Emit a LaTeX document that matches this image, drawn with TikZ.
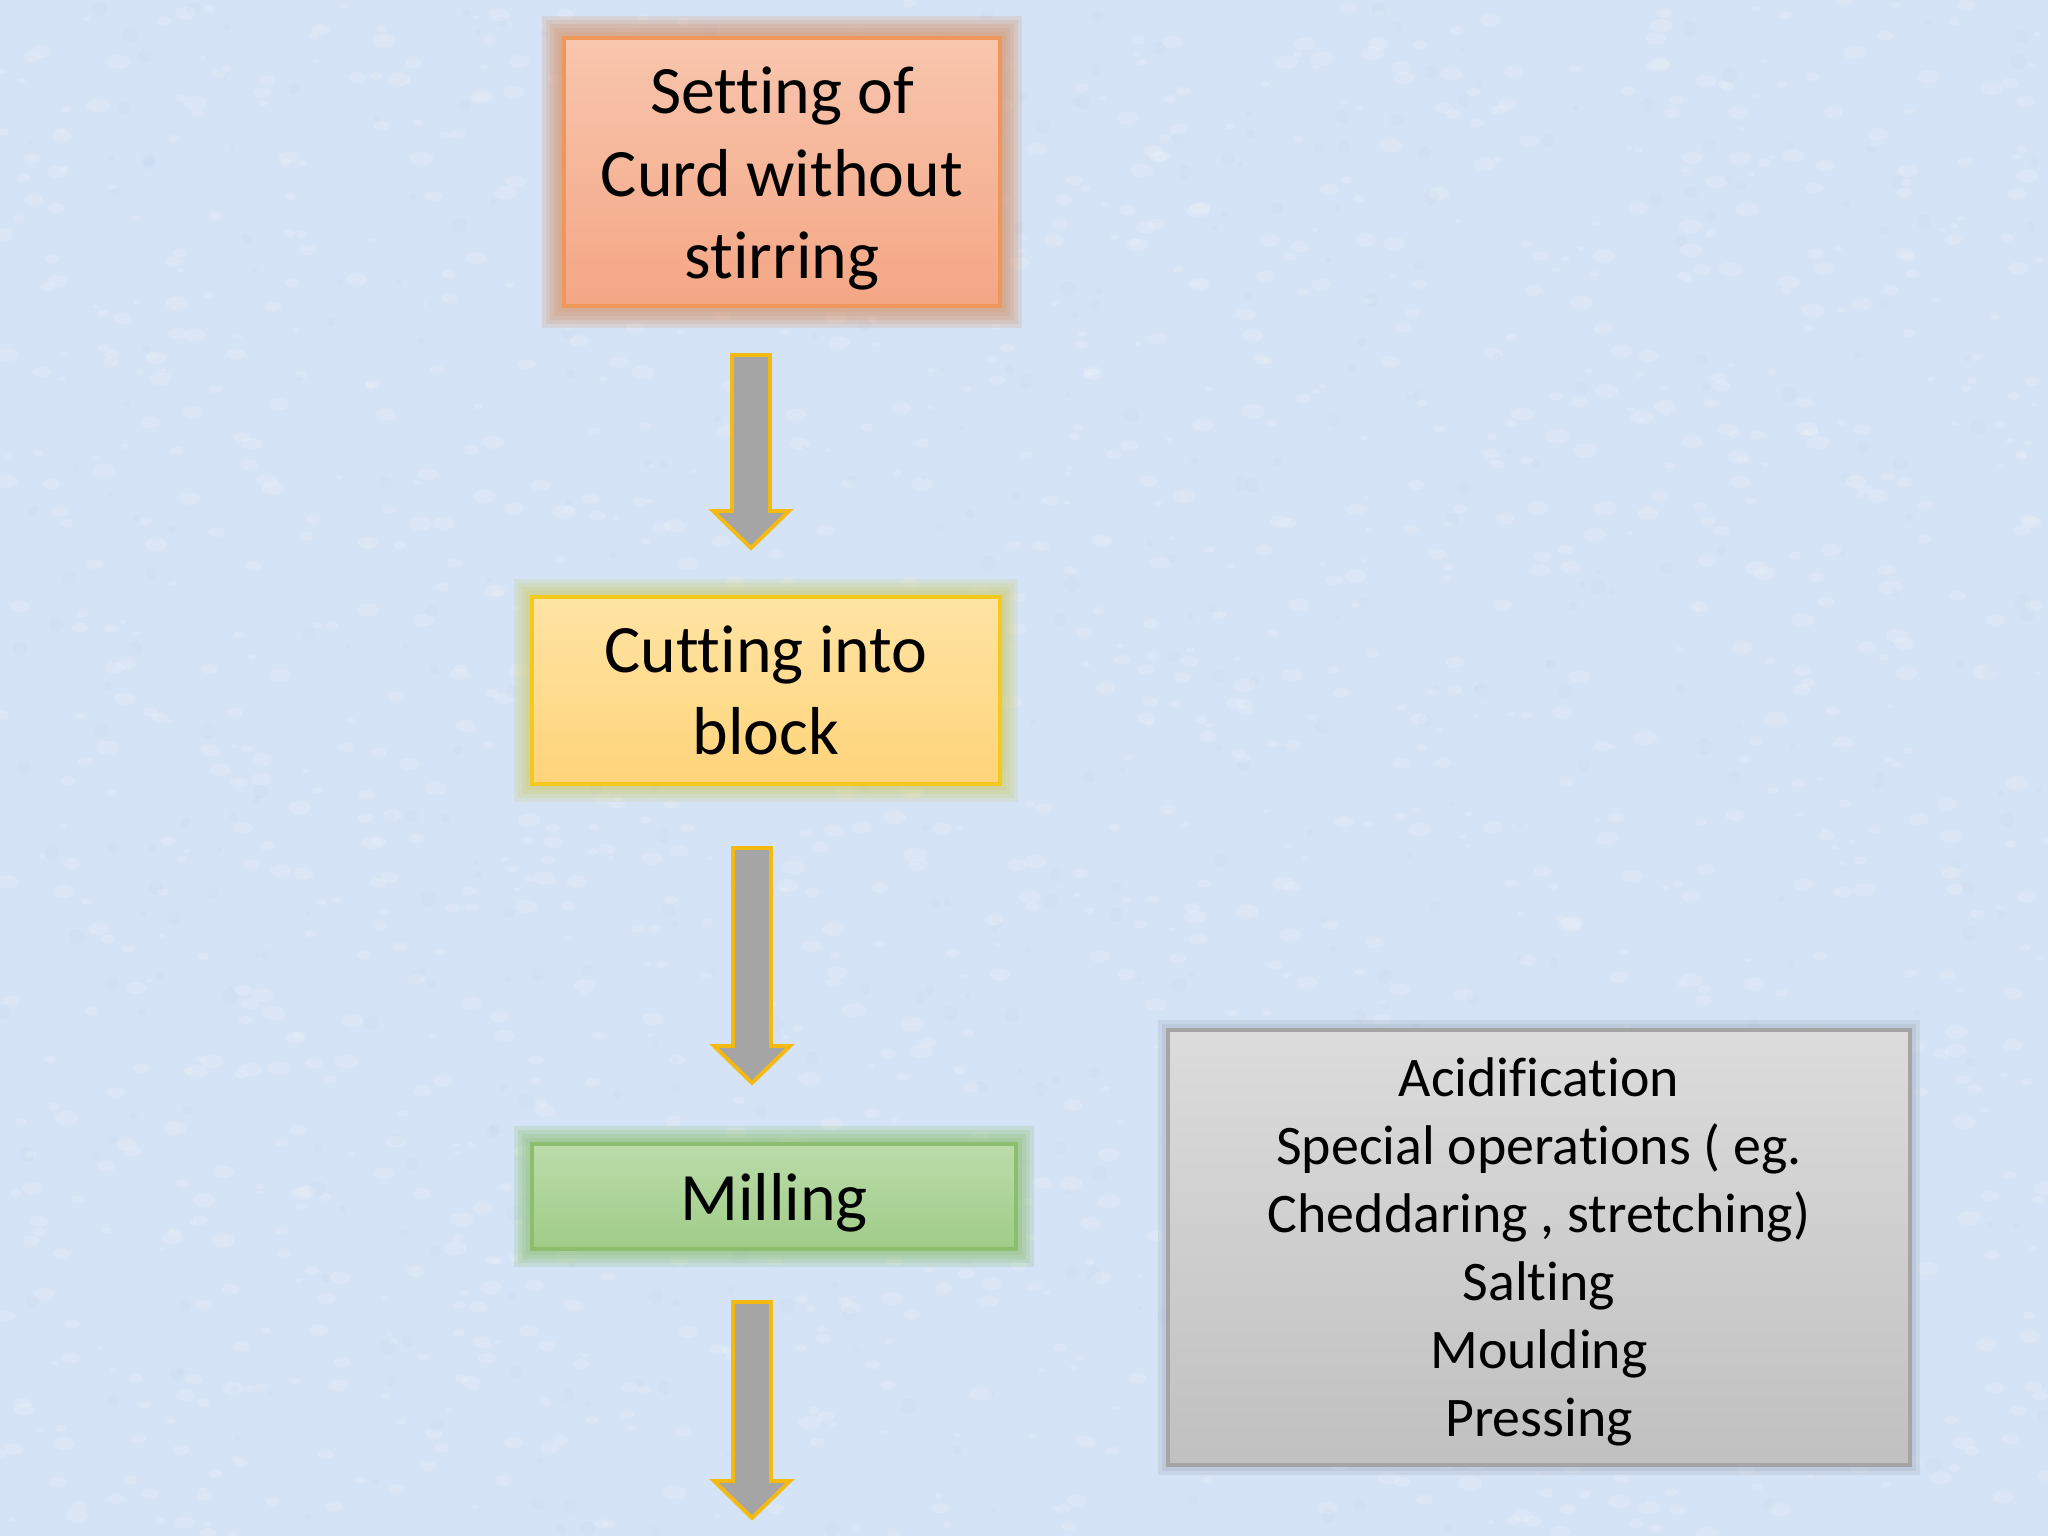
\documentclass[tikz,border=0pt]{standalone}
\usepackage{fontspec}
\setmainfont[Ligatures=NoCommon]{Carlito}
\usetikzlibrary{calc,backgrounds}
\definecolor{bgblue}{RGB}{212,227,245}
\definecolor{bgspeck}{RGB}{238,244,252}
\definecolor{bgdark}{RGB}{192,212,238}
\definecolor{arrowgray}{RGB}{165,165,165}
\definecolor{arrowedge}{RGB}{245,185,20}
\definecolor{setTop}{RGB}{248,198,174}
\definecolor{setBot}{RGB}{244,166,132}
\definecolor{setEdge}{RGB}{240,150,90}
\definecolor{setGlow}{RGB}{214,140,95}
\definecolor{cutTop}{RGB}{255,228,164}
\definecolor{cutBot}{RGB}{255,212,122}
\definecolor{cutEdge}{RGB}{245,200,30}
\definecolor{cutGlow}{RGB}{205,200,90}
\definecolor{millTop}{RGB}{186,220,170}
\definecolor{millBot}{RGB}{160,204,136}
\definecolor{millEdge}{RGB}{140,190,110}
\definecolor{millGlow}{RGB}{130,185,95}
\definecolor{opTop}{RGB}{220,220,220}
\definecolor{opBot}{RGB}{192,192,192}
\definecolor{opEdge}{RGB}{165,165,165}
\definecolor{opGlow}{RGB}{140,150,170}

\tikzset{
  stagebox/.style={draw, line width=1pt, align=center, inner sep=0pt,
    font=\fontsize{19.3}{23.4}\selectfont},
  notebox/.style={draw, line width=1pt, align=center, inner sep=0pt,
    font=\fontsize{15.9}{19.35}\selectfont},
  flowarrow/.style={draw=arrowedge, fill=arrowgray, line width=1.1pt, line join=miter},
}

% Stuetze fuer die erste Zeile (Text etwas tiefer setzen)
\newcommand{\liftline}[1]{\rule{0pt}{#1}}

% weicher Schein hinter einem Kasten
\newcommand{\glowbox}[3]{%
  \foreach \g in {0.04,0.08,...,#3} {
    \fill[#2, opacity=0.18] ($(#1.south west)+(-\g,-\g)$) rectangle ($(#1.north east)+(\g,\g)$);
  }}

% dicker Blockpfeil nach unten
\newcommand{\blockarrow}[2]{%
  \draw[flowarrow] ($(#1)+(-0.19,0)$) -- ($(#1)+(0.19,0)$) -- ($(#2)+(0.19,0.37)$)
    -- ($(#2)+(0.38,0.37)$) -- (#2) -- ($(#2)+(-0.38,0.37)$) -- ($(#2)+(-0.19,0.37)$) -- cycle;}

\begin{document}
\begin{tikzpicture}
\useasboundingbox (0,0) rectangle (20.48,15.36);

% Kaesten
\node[stagebox, draw=setEdge, top color=setTop, bottom color=setBot,
  minimum width=4.36cm, minimum height=2.68cm] (set) at (7.82,13.64)
  {\liftline{17pt}Setting of\\Curd without\\stirring};
\node[stagebox, draw=cutEdge, top color=cutTop, bottom color=cutBot,
  minimum width=4.68cm, minimum height=1.87cm] (cut) at (7.66,8.455)
  {\liftline{13.2pt}Cutting into\\block};
\node[stagebox, draw=millEdge, top color=millTop, bottom color=millBot,
  minimum width=4.84cm, minimum height=1.05cm] (mill) at (7.74,3.395)
  {\liftline{17pt}Milling};
\node[notebox, draw=opEdge, top color=opTop, bottom color=opBot,
  minimum width=7.42cm, minimum height=4.35cm] (ops) at (15.39,2.885)
  {\liftline{13.4pt}Acidification\\Special operations ( eg.\\Cheddaring , stretching)\\Salting\\Moulding\\Pressing};

% Hintergrund (fein gesprenkelt) und Schein
\begin{scope}[on background layer]
  \fill[bgblue] (0,0) rectangle (20.48,15.36);
  \pgfmathsetseed{4211}
  \foreach \i in {1,...,1600} {
    \pgfmathsetmacro{\px}{20.48*rnd}
    \pgfmathsetmacro{\py}{15.36*rnd}
    \pgfmathsetmacro{\pr}{0.03+0.09*rnd}
    \fill[bgspeck, opacity=0.28] (\px,\py) ellipse ({\pr} and {0.6*\pr});
  }
  \foreach \i in {1,...,500} {
    \pgfmathsetmacro{\px}{20.48*rnd}
    \pgfmathsetmacro{\py}{15.36*rnd}
    \pgfmathsetmacro{\pr}{0.02+0.06*rnd}
    \fill[bgdark, opacity=0.15] (\px,\py) circle ({\pr});
  }
  \glowbox{set}{setGlow}{0.24}
  \glowbox{cut}{cutGlow}{0.20}
  \glowbox{mill}{millGlow}{0.20}
  \glowbox{ops}{opGlow}{0.12}
\end{scope}

% Pfeile
\coordinate (set-out) at (7.51,11.81);
\coordinate (cut-in) at (7.51,9.88);
\coordinate (cut-out) at (7.52,6.88);
\coordinate (mill-in) at (7.52,4.53);
\coordinate (mill-out) at (7.52,2.34);
\coordinate (next-in) at (7.52,0.18);
\blockarrow{set-out}{cut-in}
\blockarrow{cut-out}{mill-in}
\blockarrow{mill-out}{next-in}

\end{tikzpicture}
\end{document}
